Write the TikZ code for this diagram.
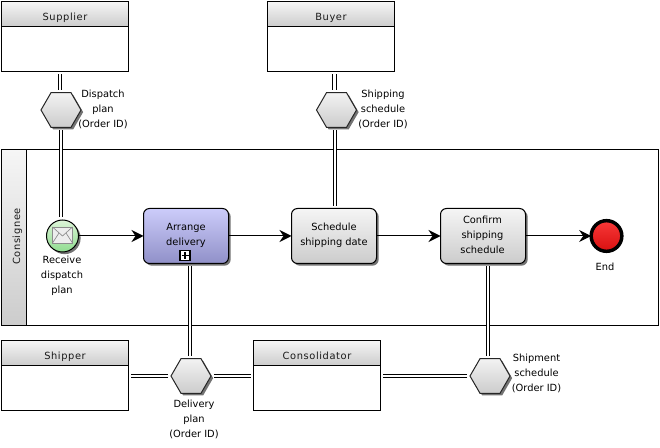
\documentclass[tikz,border=0pt]{standalone}
\usepackage{fontspec}
\setmainfont{DejaVu Sans}
\newfontfamily\poolfont[LetterSpace=6]{DejaVu Sans}
\usetikzlibrary{shapes.geometric,shadows,arrows.meta}
\definecolor{hdrtop}{HTML}{F6F6F6}
\definecolor{hdrbot}{HTML}{CCCCCC}
\definecolor{blutop}{HTML}{CCCCFA}
\definecolor{blubot}{HTML}{9090C8}
\definecolor{grntop}{HTML}{DDF5D8}
\definecolor{grnbot}{HTML}{90DC90}
\definecolor{redtop}{HTML}{F83838}
\definecolor{redbot}{HTML}{D81010}
\tikzset{
  size/.style 2 args={minimum width={#1*0.75pt},minimum height={#2*0.75pt}},
  poolbody/.style={draw=black,fill=white,line width=.75pt,outer sep=0pt,inner sep=0pt,anchor=north west},
  poolhead/.style={draw=black,top color=hdrtop,bottom color=hdrbot,line width=.75pt,outer sep=0pt,inner sep=0pt,anchor=north west,font=\poolfont\fontsize{7.4}{9}\selectfont,text=black!90,text height=10pt,text depth=0pt},
  shade3/.style={drop shadow={shadow xshift=1.6pt,shadow yshift=-1.6pt,fill=black!55,opacity=1}},
  hexa/.style={regular polygon,regular polygon sides=6,minimum size=30pt,inner sep=0pt,outer sep=0pt,draw=black!85,line width=.75pt,top color=white!95!black,bottom color=black!20,shade3},
  task/.style={rectangle,rounded corners=4.5pt,size={85}{55},outer sep=0pt,inner sep=0pt,draw=black,line width=.75pt,top color=white!96!black,bottom color=black!20,shade3},
  taskblue/.style={task,top color=blutop,bottom color=blubot},
  lab/.style={font=\lab,align=center,inner sep=0pt,text=black},
  msg/.style={double=white,double distance=1.8pt,line width=.75pt,draw=black,shorten <=2.2pt,shorten >=2.2pt},
  seq/.style={draw=black,line width=.75pt,-{Stealth[length=9pt,width=9pt,inset=3pt]}},
}
\newcommand{\lab}{\fontsize{7.4}{11.25}\selectfont}
\begin{document}
\begin{tikzpicture}[x=0.75pt,y=-0.75pt]
\useasboundingbox (0,0) rectangle (660,448);
% pools
\node[poolbody,size={127}{70}] (supplier) at (1.5,1.5) {};
\node[poolhead,size={127}{25}] (supplierH) at (1.5,1.5) {Supplier};
\node[poolbody,size={127}{70}] (buyer) at (267.5,1.5) {};
\node[poolhead,size={127}{25}] (buyerH) at (267.5,1.5) {Buyer};
\node[poolbody,size={657}{176}] (consignee) at (1.5,149.5) {};
\node[draw=black,top color=hdrtop,bottom color=hdrbot,line width=.75pt,outer sep=0pt,inner sep=0pt,anchor=north west,size={25}{176}] (consigneeH) at (1.5,149.5) {};
\node[font=\poolfont\fontsize{7.4}{9}\selectfont,text=black!90,rotate=90,inner sep=0pt] (consigneeT) at (17.5,236.5) {Consignee};
\node[poolbody,size={127}{70}] (shipper) at (1.5,340.5) {};
\node[poolhead,size={127}{25}] (shipperH) at (1.5,340.5) {Shipper};
\node[poolbody,size={127}{70}] (consol) at (253.5,340.5) {};
\node[poolhead,size={127}{25}] (consolH) at (253.5,340.5) {Consolidator};
% data hexagons
\node[hexa] (hexA) at (61,110) {};
\node[hexa] (hexB) at (336.5,110) {};
\node[hexa] (hexC) at (191,376) {};
\node[hexa] (hexD) at (490,376) {};
% flow objects
\node[circle,minimum size=24pt,inner sep=0pt,outer sep=0pt,draw=black,line width=.75pt,top color=grntop,bottom color=grnbot,shade3] (receive) at (62.5,236) {};
\node[taskblue,anchor=north west] (arrange) at (143.5,208.5) {};
\node[task,anchor=north west] (schedule) at (291.5,208.5) {};
\node[task,anchor=north west] (confirm) at (440.5,208.5) {};
\node[circle,minimum size=23pt,inner sep=0pt,outer sep=0pt,draw=black,line width=2.6pt,top color=redtop,bottom color=redbot] (finish) at (606.5,236) {};
% envelope
\draw[black!45,fill=white!93!black,line width=.5pt] (52.5,227) rectangle (72.5,243);
\draw[black!45,line width=.5pt] (52.5,227) -- (62.5,236) -- (72.5,227) (52.5,243) -- (59,233) (72.5,243) -- (66,233);
% task texts
\node[lab] (t1) at (186,235.5) {Arrange\\delivery};
\node[lab] (t2) at (334,235.5) {Schedule\\shipping date};
\node[lab] (t3) at (482.5,235) {Confirm\\shipping\\schedule};
% subprocess marker
\node[draw=black,fill=white,line width=.9pt,inner sep=0pt,outer sep=0pt,size={10}{10}] (plusbox) at (185,255.5) {};
\draw[black,line width=1.1pt] (181.5,255.5) -- (188.5,255.5) (185,252) -- (185,259);
% sequence flows
\draw[seq] (receive) -- (receive -| arrange.west);
\draw[seq] (arrange) -- (arrange -| schedule.west);
\draw[seq] (schedule) -- (schedule -| confirm.west);
\draw[seq] (confirm) -- (finish);
% message flows
\draw[msg] ([shift={(-1,0)}]hexA.north) -- ([shift={(-1,0)}]hexA.north |- supplier.south);
\draw[msg] (hexA.south) -- (hexA.south |- receive.north);
\draw[msg] ([shift={(-2,0)}]hexB.north) -- ([shift={(-2,0)}]hexB.north |- buyer.south);
\draw[msg] ([shift={(-1.5,0)}]hexB.south) -- ([shift={(-1.5,0)}]hexB.south |- schedule.north);
\draw[msg] ([shift={(-1,0)}]hexC.north) -- ([shift={(-1,0)}]hexC.north |- arrange.south);
\draw[msg] (hexC.west) -- (hexC.west -| shipper.east);
\draw[msg] (hexC.east) -- (hexC.east -| consol.west);
\draw[msg] ([shift={(-2,0)}]hexD.north) -- ([shift={(-2,0)}]hexD.north |- confirm.south);
\draw[msg] (hexD.west) -- (hexD.west -| consol.east);
% labels
\node[lab] (lA) at (103,109.5) {Dispatch\\plan\\(Order ID)};
\node[lab] (lB) at (383,109.5) {Shipping\\schedule\\(Order ID)};
\node[lab] (lC) at (194,419.5) {Delivery\\plan\\(Order ID)};
\node[lab] (lD) at (536.5,373) {Shipment\\schedule\\(Order ID)};
\node[lab] (lE) at (62,275.5) {Receive\\dispatch\\plan};
\node[lab] (lF) at (605,267) {End};
\end{tikzpicture}
\end{document}
